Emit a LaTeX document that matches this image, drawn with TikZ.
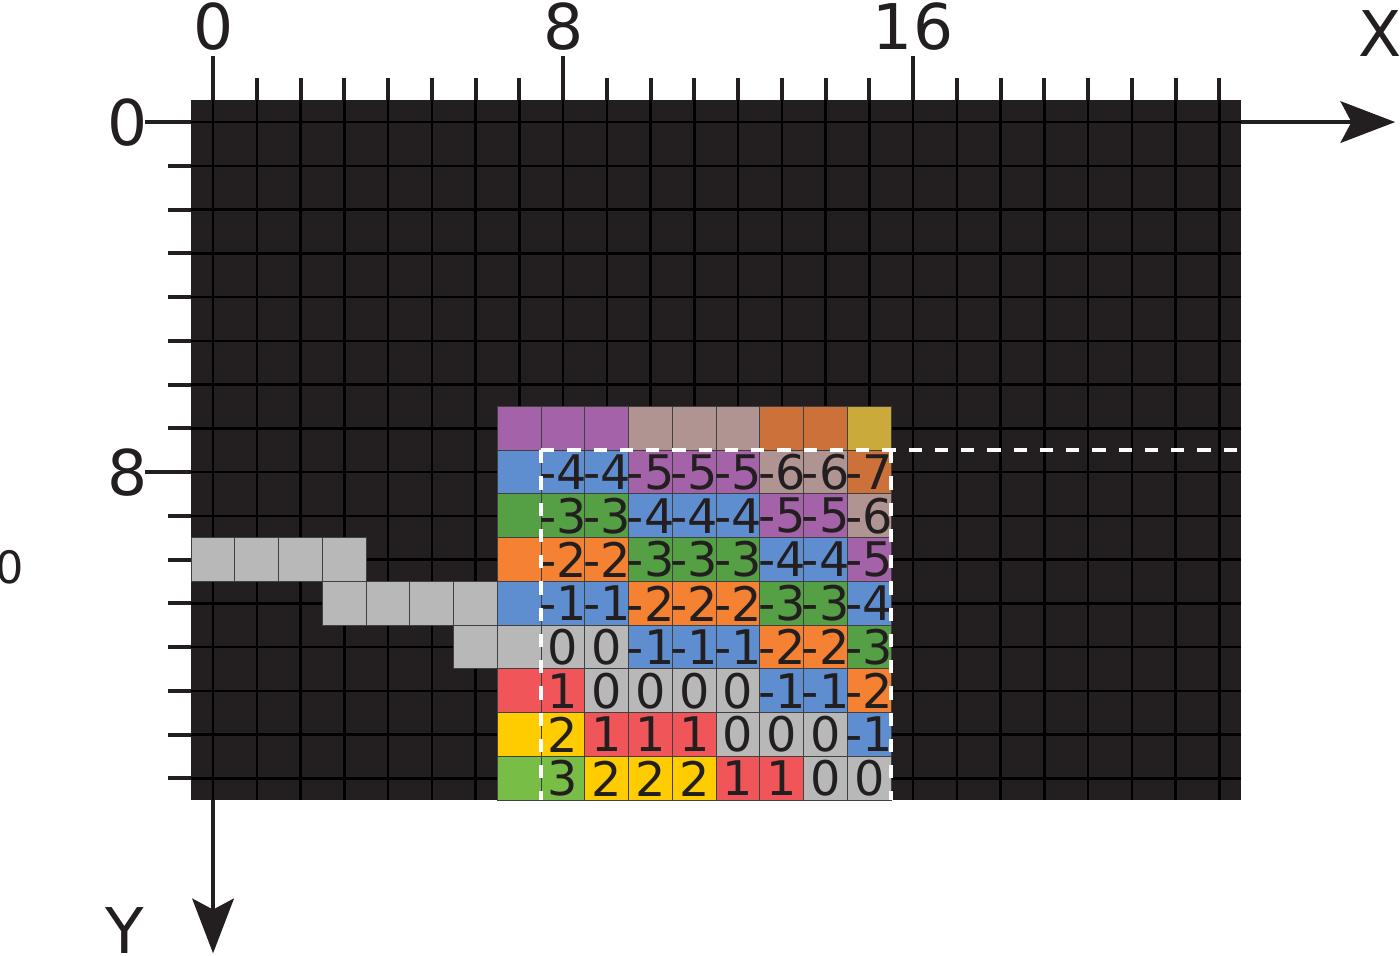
\documentclass[tikz,border=0pt]{standalone}
\usepackage{fontspec}
\setmainfont{DejaVu Sans}
\usetikzlibrary{arrows.meta}
\definecolor{ink}{HTML}{231F20}
\definecolor{col13}{HTML}{78BE46}
\definecolor{col12}{HTML}{FFCC00}
\definecolor{col11}{HTML}{F0555A}
\definecolor{col10}{HTML}{B8B8B8}
\definecolor{col9}{HTML}{5F8ED0}
\definecolor{col8}{HTML}{F58232}
\definecolor{col7}{HTML}{55A045}
\definecolor{col6}{HTML}{5F8ED0}
\definecolor{col5}{HTML}{A462A8}
\definecolor{col4}{HTML}{B09492}
\definecolor{col3}{HTML}{CC713A}
\definecolor{col2}{HTML}{C9AA3A}
\begin{document}
\begin{tikzpicture}[x=1cm,y=-1cm,
  axis/.style={draw=ink, line width=0.09cm},
  tickline/.style={draw=ink, line width=0.09cm},
  gridline/.style={draw=black, line width=0.055cm},
  cell/.style={draw=black!75, line width=0.025cm, minimum size=1cm, inner sep=0pt, outer sep=0pt},
  num/.style={font=\fontsize{31}{31}\selectfont, text=ink, inner sep=0pt},
  biglabel/.style={font=\fontsize{41}{41}\selectfont, text=ink, inner sep=0pt},
  smalllabel/.style={font=\fontsize{29}{29}\selectfont, text=ink, inner sep=0pt},
  dashline/.style={draw=white, line width=0.1cm, dash pattern=on 0.3cm off 0.3cm},
  tipped/.style={-{Stealth[length=1.25cm,width=0.95cm,inset=0.25cm]}}
]
\useasboundingbox (-4.87,-2.79) rectangle (27.13,19.04);
% axes
\coordinate (xstart) at (-1.55,0);
\coordinate (xend) at (27.02,0);
\coordinate (ystart) at (0,-1.5);
\coordinate (yend) at (0,19.0);
\draw[axis,tipped] (xstart) -- (xend);
\draw[axis,tipped] (ystart) -- (yend);
% ticks
\foreach \i in {0,...,23} \draw[tickline] (\i,-1.0) -- (\i,-0.5);
\foreach \i in {0,8,16} \draw[tickline] (\i,-1.5) -- (\i,-0.5);
\foreach \j in {0,...,15} \draw[tickline] (-1.03,\j) -- (-0.5,\j);
\foreach \j in {0,8} \draw[tickline] (-1.55,\j) -- (-0.5,\j);
% board
\fill[ink] (-0.5,-0.5) rectangle (23.5,15.5);
\foreach \i in {0,...,23} \draw[gridline] (\i,-0.5) -- (\i,15.5);
\foreach \j in {0,...,15} \draw[gridline] (-0.5,\j) -- (23.5,\j);
% gray path cells
\foreach \c/\j in {0/10,1/10,2/10,3/10,3/11,4/11,5/11,6/11,6/12}
  \node[cell, fill=col10] (g\c-\j) at (\c,\j) {};
% table
\foreach \j/\vals in {
  7/{-5,-5,-5,-6,-6,-6,-7,-7,-8},
  8/{-4,-4,-4,-5,-5,-5,-6,-6,-7},
  9/{-3,-3,-3,-4,-4,-4,-5,-5,-6},
  10/{-2,-2,-2,-3,-3,-3,-4,-4,-5},
  11/{-1,-1,-1,-2,-2,-2,-3,-3,-4},
  12/{0,0,0,-1,-1,-1,-2,-2,-3},
  13/{1,1,0,0,0,0,-1,-1,-2},
  14/{2,2,1,1,1,0,0,0,-1},
  15/{3,3,2,2,2,1,1,0,0}}{
  \foreach \v [count=\c from 7] in \vals {
    \pgfmathtruncatemacro\k{\v+10}
    \node[cell, fill=col\k] (c\c-\j) at (\c,\j) {};
    \ifnum\j>7 \ifnum\c>7
      \node[num] (n\c-\j) at (c\c-\j.center) {\v};
    \fi\fi
  }
}
% dashed outline
\coordinate (d1) at (7.5,15.5);
\coordinate (d2) at (7.5,7.5);
\coordinate (d3) at (23.5,7.5);
\coordinate (d4) at (15.5,7.5);
\coordinate (d5) at (15.5,15.5);
\draw[dashline] (d2) -- (d3);
\draw[dashline] (d2) -- (d1);
\draw[dashline] (d4) -- (d5);
% labels
\node[biglabel] (lx0) at (0,-2.18) {0};
\node[biglabel] (lx8) at (8,-2.18) {8};
\node[biglabel] (lx16) at (16,-2.18) {16};
\node[biglabel] (lX) at (26.67,-2.02) {X};
\node[biglabel] (lY) at (-2.01,18.48) {Y};
\node[biglabel] (ly0) at (-1.95,0) {0};
\node[biglabel] (ly8) at (-1.95,8) {8};
\node[smalllabel] (lsmall) at (-4.64,10.17) {0};
\end{tikzpicture}
\end{document}
